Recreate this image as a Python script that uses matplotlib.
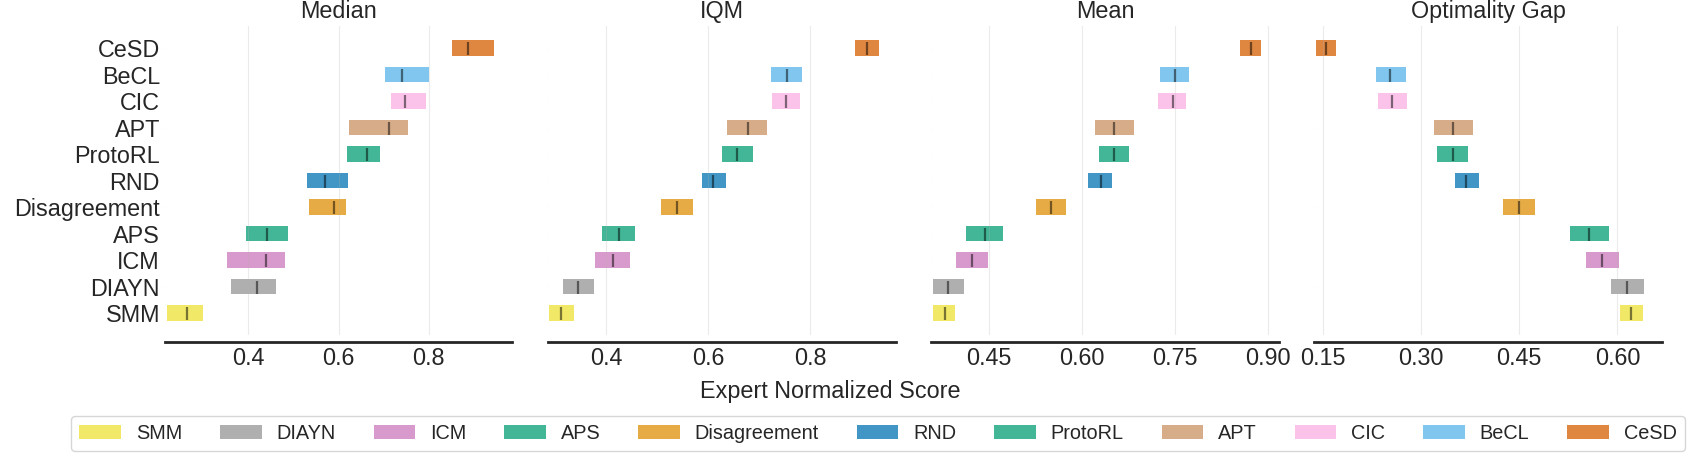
"""
Interval-estimate plot (rliable style): median / IQM / mean / optimality gap
with bootstrap CIs per algorithm, expert-normalized score.
"""

import matplotlib

matplotlib.use("Agg")
import matplotlib.pyplot as plt
from matplotlib.ticker import FormatStrFormatter

plt.rcParams["font.family"] = ["Liberation Sans", "DejaVu Sans"]
plt.rcParams["text.color"] = "#262626"
plt.rcParams["xtick.color"] = "#262626"
plt.rcParams["ytick.color"] = "#262626"

ALGORITHMS = ["SMM", "DIAYN", "ICM", "APS", "Disagreement", "RND",
              "ProtoRL", "APT", "CIC", "BeCL", "CeSD"]
COLORS = ["#ece133", "#949494", "#cc78bc", "#029e73", "#de8f05", "#0173b2",
          "#029e73", "#ca9161", "#fbafe4", "#56b4e9", "#d55e00"]

METRICS = ["Median", "IQM", "Mean", "Optimality Gap"]

# lower CI, upper CI, point estimate -- same order as ALGORITHMS
MEDIAN_LO = [0.219, 0.361, 0.353, 0.396, 0.534, 0.531, 0.618, 0.624, 0.716, 0.703, 0.852]
MEDIAN_HI = [0.299, 0.461, 0.481, 0.489, 0.616, 0.622, 0.693, 0.755, 0.793, 0.800, 0.945]
MEDIAN_PT = [0.264, 0.420, 0.440, 0.442, 0.590, 0.570, 0.664, 0.712, 0.748, 0.741, 0.887]

IQM_LO = [0.288, 0.314, 0.377, 0.392, 0.508, 0.587, 0.626, 0.636, 0.726, 0.724, 0.889]
IQM_HI = [0.336, 0.376, 0.446, 0.457, 0.569, 0.634, 0.687, 0.716, 0.781, 0.785, 0.935]
IQM_PT = [0.311, 0.344, 0.413, 0.425, 0.539, 0.610, 0.656, 0.678, 0.753, 0.755, 0.912]

MEAN_LO = [0.361, 0.360, 0.397, 0.413, 0.526, 0.611, 0.628, 0.622, 0.723, 0.727, 0.855]
MEAN_HI = [0.396, 0.410, 0.449, 0.473, 0.575, 0.649, 0.676, 0.684, 0.768, 0.773, 0.890]
MEAN_PT = [0.379, 0.385, 0.423, 0.444, 0.550, 0.631, 0.652, 0.653, 0.747, 0.750, 0.873]

GAP_LO = [0.604, 0.590, 0.552, 0.527, 0.425, 0.352, 0.324, 0.320, 0.234, 0.231, 0.139]
GAP_HI = [0.639, 0.640, 0.603, 0.587, 0.474, 0.389, 0.371, 0.380, 0.279, 0.277, 0.170]
GAP_PT = [0.621, 0.615, 0.577, 0.557, 0.450, 0.369, 0.348, 0.349, 0.256, 0.253, 0.154]

XTICKS = [[0.4, 0.6, 0.8], [0.4, 0.6, 0.8],
          [0.45, 0.60, 0.75, 0.90], [0.15, 0.30, 0.45, 0.60]]
XFMT = ["%.1f", "%.1f", "%.2f", "%.2f"]
XLIMS = [(0.2155, 0.9853), (0.2853, 0.9678), (0.3575, 0.9177), (0.1368, 0.6677)]


def _decorate(ax):
    ax.spines["right"].set_visible(False)
    ax.spines["top"].set_visible(False)
    ax.spines["left"].set_visible(False)
    ax.spines["bottom"].set_linewidth(2)
    ax.spines["bottom"].set_color("#262626")
    ax.spines["bottom"].set_position(("outward", 5))
    ax.tick_params(length=0.1, width=0.1, labelsize=16.8)


def main():
    data = [(MEDIAN_LO, MEDIAN_HI, MEDIAN_PT), (IQM_LO, IQM_HI, IQM_PT),
            (MEAN_LO, MEAN_HI, MEAN_PT), (GAP_LO, GAP_HI, GAP_PT)]
    h = 0.6
    fig, axes = plt.subplots(1, 4, figsize=(16.9, 4.54), dpi=100)
    handles = []
    for k, (ax, name, (lo, hi, pt)) in enumerate(zip(axes, METRICS, data)):
        for i, alg in enumerate(ALGORITHMS):
            bar = ax.barh(y=i, width=hi[i] - lo[i], height=h, left=lo[i],
                          color=COLORS[i], alpha=0.75, label=alg)
            ax.vlines(x=pt[i], ymin=i - 7.5 * h / 16, ymax=i + 6 * h / 16,
                      color="k", alpha=0.5, linewidth=1.6)
            if k == 0:
                handles.append(bar)
        ax.set_yticks(range(len(ALGORITHMS)))
        if k == 0:
            ax.set_yticklabels(ALGORITHMS, fontsize=16.8)
        else:
            ax.set_yticklabels([])
        ax.set_xticks(XTICKS[k])
        ax.xaxis.set_major_formatter(FormatStrFormatter(XFMT[k]))
        ax.set_xlim(*XLIMS[k])
        ax.set_title(name, fontsize=16.8)
        _decorate(ax)
        ax.grid(True, axis="x", alpha=0.25)

    fig.subplots_adjust(left=0.0976, right=0.9833, top=0.9427,
                        bottom=0.2621, wspace=0.1025)
    fig.text(0.491, 0.1366, "Expert Normalized Score", ha="center",
             va="center", fontsize=16.8)
    fig.legend(handles, ALGORITHMS, loc="center", bbox_to_anchor=(0.5195, 0.0452),
               ncol=len(ALGORITHMS), fontsize=14.3, handlelength=2.1,
               columnspacing=1.9, handletextpad=0.75, frameon=True)
    fig.savefig("out.png", dpi=100)
    plt.close(fig)


if __name__ == "__main__":
    main()
